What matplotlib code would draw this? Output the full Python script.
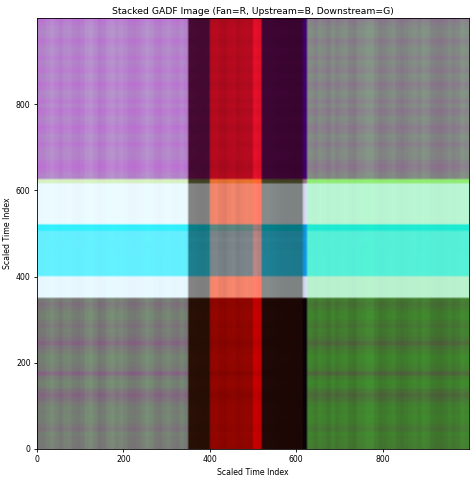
import numpy as np
import matplotlib
matplotlib.use("Agg")
import matplotlib.pyplot as plt

W, H, DPI = 474, 479, 100
title = "Stacked GADF Image (Fan=R, Upstream=B, Downstream=G)"
xlabel = "Scaled Time Index"
ylabel = "Scaled Time Index"
ticks = [0, 200, 400, 600, 800]

col_edges = [0, 350, 400, 500, 520, 615, 625, 1000]
row_edges = [0, 350, 400, 505, 520, 615, 625, 1000]

red = [
    [122, 40, 140, 190, 30, 10, 68],
    [232, 130, 240, 255, 130, 215, 185],
    [100, 30, 120, 180, 30, 20, 85],
    [50, 10, 90, 150, 5, 10, 30],
    [235, 130, 235, 255, 130, 215, 185],
    [215, 65, 225, 255, 65, 150, 145],
    [183, 70, 175, 220, 60, 65, 133],
]
green = [
    [120, 15, 5, 0, 8, 0, 118],
    [248, 130, 130, 125, 135, 215, 240],
    [240, 125, 130, 130, 125, 150, 240],
    [240, 125, 130, 120, 125, 150, 235],
    [250, 130, 130, 125, 135, 215, 245],
    [240, 65, 110, 100, 65, 110, 235],
    [128, 10, 10, 15, 5, 0, 130],
]
blue = [
    [120, 5, 0, 0, 5, 10, 50],
    [255, 130, 105, 105, 135, 245, 205],
    [255, 140, 135, 130, 145, 225, 215],
    [255, 135, 125, 120, 135, 225, 210],
    [255, 130, 105, 105, 135, 245, 210],
    [195, 35, 45, 40, 35, 130, 115],
    [205, 50, 30, 40, 50, 110, 135],
]

# estimated stripe strength per 10 scaled units, along x and along y
col_stripes = [
    -0.3, -0.2, 0.3, 0.8, 0.2, -0.3, 0.3, 0.4, -0.2, -0.4,
    -0.1, 0.7, 1.0, 0.3, -0.5, -0.2, 0.6, 0.9, 0.3, 0.7,
    0.2, -0.4, -0.5, -0.2, 0.3, 0.9, 0.5, -0.2, -0.4, 0.2,
    0.5, -0.1, -0.3, 0.3, -0.2, 0.2, 0.1, -0.3, -0.5, -0.2,
    0.4, 0.6, -0.2, -0.5, 0.3, 0.6, -0.3, 0.2, 0.5, 0.3,
    0.6, -0.1, 0.4, 0.5, 0.2, -0.1, -0.4, -0.5, -0.5, -0.6,
    -0.6, -0.8, 0.5, 0.3, -0.2, 0.4, 0.1, -0.4, 0.3, -0.2,
    0.2, 0.4, -0.3, -0.5, 0.3, 0.5, 0.9, 1.0, 0.2, -0.4,
    -0.3, 0.1, 0.4, -0.2, -0.5, -0.2, 0.2, 0.5, 0.1, 0.7,
    0.5, -0.3, -0.5, -0.6, -0.3, 0.2, -0.2, 0.1, 0.8, 0.5,
]
row_stripes = [
    0.1, 0.3, 0.2, 0.5, -0.2, 0.1, 0.5, 0.6, 0.4, 0.5,
    0.2, -0.4, -0.9, -0.3, 0.5, 0.7, 0.1, -1.0, 0.1, 0.4,
    0.6, 0.7, 0.2, -0.2, -1.0, -0.3, 0.1, 0.3, -0.2, 0.2,
    0.6, 0.5, 0.1, -0.3, 0.2, 0, 0, 0, 0, 0,
    0, 0, 0, 0, 0, 0, -0.3, -0.3, 0.2, -0.5,
    -0.3, 0, 0, 0, 0, 0, 0, 0, 0, 0,
    0, 0, 0.4, 0.3, -0.3, -0.6, -0.2, 0.3, 0.4, 0.2,
    -0.3, 0.2, 0.4, -0.2, -0.5, 0.1, 0.4, -0.2, -0.4, 0.3,
    -0.3, 0.3, 0.5, -0.1, -0.4, 0.2, 0.4, -0.3, 0.1, 0.4,
    -0.2, 0.3, 0.5, 0.1, -0.3, 0.3, 0.5, 0.3, -0.1, -0.6,
]

CELL = 5
n = 1000 // CELL
centers = (np.arange(n) + 0.5) * CELL
ci = np.searchsorted(col_edges, centers) - 1
ri = np.searchsorted(row_edges, centers) - 1
cs = np.repeat(np.array(col_stripes, float), 2)
rs = np.repeat(np.array(row_stripes, float), 2)

img = np.zeros((n, n, 3))
for k, chan in enumerate((red, green, blue)):
    img[:, :, k] = np.array(chan, float)[np.ix_(ri, ci)]

outer_c = np.isin(ci, [0, 6]).astype(float)
outer_r = np.isin(ri, [0, 6]).astype(float)
stripe_c = np.outer(0.2 + 0.8 * outer_r, cs * outer_c)
stripe_r = np.outer(rs * (0.15 + 0.85 * outer_r), outer_c)
img[:, :, 1] += 15 * stripe_c + 17 * stripe_r
img[:, :, 0] += 3 * stripe_c - 9 * stripe_r
img[:, :, 2] += 3 * stripe_c - 9 * stripe_r
gain = 1 + np.outer(0.05 * rs, 1 - outer_c) + (0.06 * cs * (1 - outer_c))[None, :]
img *= gain[:, :, None]
img = np.clip(img, 0, 255) / 255

fig = plt.figure(figsize=(W / DPI, H / DPI), dpi=DPI)
ax = fig.add_axes([37 / W, 1 - 449 / H, 432 / W, 431 / H])
ax.imshow(img, origin="lower", extent=[0, 1000, 0, 1000], aspect="auto",
          interpolation="bilinear")
ax.set_xticks(ticks)
ax.set_yticks(ticks)
ax.tick_params(labelsize=5.6, length=2.4, width=0.6, pad=2.2)
for s in ax.spines.values():
    s.set_linewidth(0.6)
ax.set_xlabel(xlabel, fontsize=5.6, labelpad=2.5)
ax.set_ylabel(ylabel, fontsize=5.6, labelpad=2.5)
ax.set_title(title, fontsize=6.7, pad=3)
fig.savefig("out.png", dpi=DPI)
